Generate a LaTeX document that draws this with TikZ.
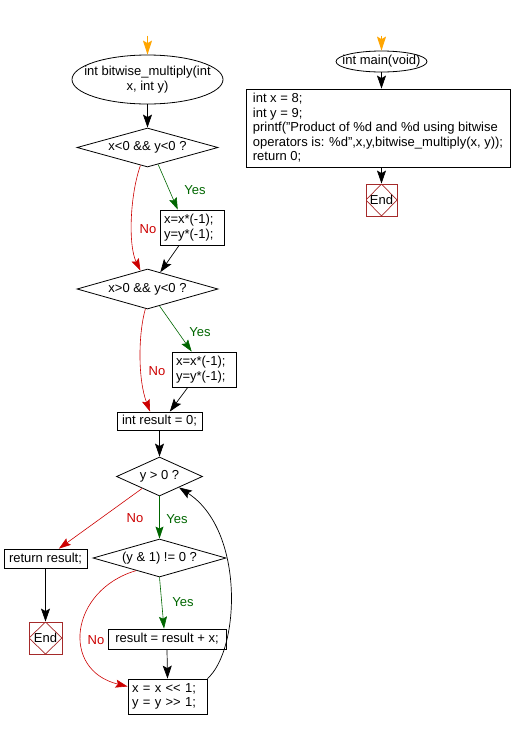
\documentclass[tikz,border=0pt]{standalone}
\usepackage{fontspec}
\setmainfont{Liberation Sans}
\usetikzlibrary{shapes.geometric,arrows.meta,calc}
\definecolor{noRed}{RGB}{204,0,0}
\definecolor{yesGreen}{RGB}{0,102,0}
\definecolor{startOrange}{RGB}{255,165,0}
\definecolor{endRed}{RGB}{165,42,42}
\begin{document}
\begin{tikzpicture}[x=1pt,y=-1pt,
  font=\fontsize{13}{14.5}\selectfont,
  box/.style={draw, rectangle, inner sep=0pt, line width=0.8pt},
  dec/.style={draw, diamond, inner sep=0pt, line width=0.8pt},
  oval/.style={draw, ellipse, inner sep=0pt, line width=0.8pt},
  flow/.style={draw, line width=0.7pt, -{Stealth[length=13pt,width=9pt,inset=2.5pt]}},
  yesarrow/.style={draw=yesGreen, line width=0.6pt, -{Stealth[length=12pt,width=8pt,inset=2pt]}},
  noarrow/.style={draw=noRed, line width=0.6pt, -{Stealth[length=12pt,width=8pt,inset=2pt]}},
  startarrow/.style={draw=startOrange, line width=0.9pt, -{Stealth[length=14pt,width=9pt,inset=2.5pt]}},
  yeslbl/.style={text=yesGreen, inner sep=0pt},
  nolbl/.style={text=noRed, inner sep=0pt},
  endbox/.style={draw=endRed, rectangle, inner sep=0pt, line width=0.8pt,
    path picture={\draw[endRed, line width=0.7pt] (path picture bounding box.north) -- (path picture bounding box.east) -- (path picture bounding box.south) -- (path picture bounding box.west) -- cycle;}}
]
\useasboundingbox (0,0) rectangle (518,729);

% ---------- bitwise_multiply ----------
\node[oval, minimum width=151pt, minimum height=49pt] (e1) at (147.5,79.5) {};
\node[align=center, inner sep=0pt] (e1t) at (e1.center) {int bitwise\_multiply(int\\x, int y)};
\coordinate (s1) at ($(e1.north)+(0,-19)$);

\node[dec, aspect=3.6, minimum width=141pt, minimum height=39pt] (d1) at (147.5,147.5) {x<0 \&\& y<0 ?};
\node[box, minimum width=64pt, minimum height=35pt, text width=56pt, inner xsep=4pt, align=left] (b1) at (192,227.5) {x=x*(-1);\\y=y*(-1);};
\node[dec, aspect=3.6, minimum width=141pt, minimum height=40pt] (d2) at (147.5,289) {x>0 \&\& y<0 ?};
\node[box, minimum width=64pt, minimum height=35pt, text width=56pt, inner xsep=4pt, align=left] (b2) at (204,369.5) {x=x*(-1);\\y=y*(-1);};
\node[box, minimum width=85pt, minimum height=18pt] (b3) at (159.5,421) {int result = 0;};
\node[dec, aspect=2.2, minimum width=86pt, minimum height=39pt] (d3) at (159.5,476.5) {y > 0 ?};
\node[box, minimum width=83pt, minimum height=19pt] (ret) at (45.5,558.5) {return result;};
\node[endbox, minimum width=33pt, minimum height=32pt] (end2) at (45.5,638) {End};
\node[dec, aspect=3.5, minimum width=133pt, minimum height=38pt] (d4) at (159.5,558) {(y \& 1) != 0 ?};
\node[box, minimum width=118pt, minimum height=20pt] (b4) at (167,639) {result = result + x;};
\node[box, minimum width=79pt, minimum height=35pt, text width=71pt, inner xsep=4pt, align=left] (b5) at (167.5,696.5) {x = x <\kern0pt< 1;\\y = y >\kern0pt> 1;};

% labels
\node[yeslbl] (l1) at (195,190) {Yes};
\node[nolbl]  (l2) at (148,229) {No};
\node[yeslbl] (l3) at (200,332) {Yes};
\node[nolbl]  (l4) at (157,371) {No};
\node[yeslbl] (l5) at (177,519) {Yes};
\node[nolbl]  (l6) at (135,518) {No};
\node[yeslbl] (l7) at (183,602) {Yes};
\node[nolbl]  (l8) at (96,640) {No};

% connectors
\draw[startarrow] (s1) -- (e1.north);
\draw[flow] (e1.south) -- (d1.north);
\draw[yesarrow] ($(d1.south)!0.15!(d1.east)$) -- ($(b1.north west)!0.28!(b1.north east)$);
\draw[noarrow] ($(d1.south)!0.1!(d1.west)$) .. controls (130,195) and (128,245) .. ($(d2.north)!0.1!(d2.west)$);
\draw[flow] ($(b1.south west)!0.3!(b1.south east)$) -- ($(d2.north)!0.18!(d2.east)$);
\draw[yesarrow] ($(d2.south)!0.17!(d2.east)$) -- ($(b2.north west)!0.31!(b2.north east)$);
\draw[noarrow] ($(d2.south)!0.03!(d2.west)$) .. controls (138,335) and (138,380) .. ($(b3.north west)!0.39!(b3.north east)$);
\draw[flow] ($(b2.south west)!0.25!(b2.south east)$) -- ($(b3.north west)!0.62!(b3.north east)$);
\draw[flow] (b3.south) -- (d3.north);
\draw[yesarrow] (d3.south) -- (d4.north);
\draw[noarrow] ($(d3.south)!0.4!(d3.west)$) -- ($(ret.north west)!0.66!(ret.north east)$);
\draw[flow] (ret.south) -- (end2.north);
\draw[yesarrow] (d4.south) -- ($(b4.north west)!0.475!(b4.north east)$);
\draw[noarrow] ($(d4.south)!0.35!(d4.west)$) .. controls (70,590) and (60,670) .. ($(b5.north west)!0.22!(b5.south west)$);
\draw[flow] (b4.south) -- (b5.north);
\draw[flow] (b5.north east) .. controls (240,650) and (245,530) .. ($(d3.south)!0.45!(d3.east)$);

% ---------- main ----------
\node[oval, minimum width=91pt, minimum height=21pt] (em) at (381.5,61.5) {};
\node[inner sep=0pt] (emt) at (em.center) {int main(void)};
\coordinate (s2) at ($(em.north)+(0,-15)$);
\node[box, minimum width=264pt, minimum height=78pt, align=left] (mb) at (378,128) {int x = 8;\\int y = 9;\\printf("Product of \%d and \%d using bitwise\\operators is: \%d",x,y,bitwise\_multiply(x, y));\\return 0;};
\node[endbox, minimum width=31pt, minimum height=32pt] (end1) at (381.5,200) {End};

\draw[startarrow] (s2) -- (em.north);
\draw[flow] (em.south) -- (em.south |- mb.north);
\draw[flow] (end1.north |- mb.south) -- (end1.north);
\end{tikzpicture}
\end{document}
